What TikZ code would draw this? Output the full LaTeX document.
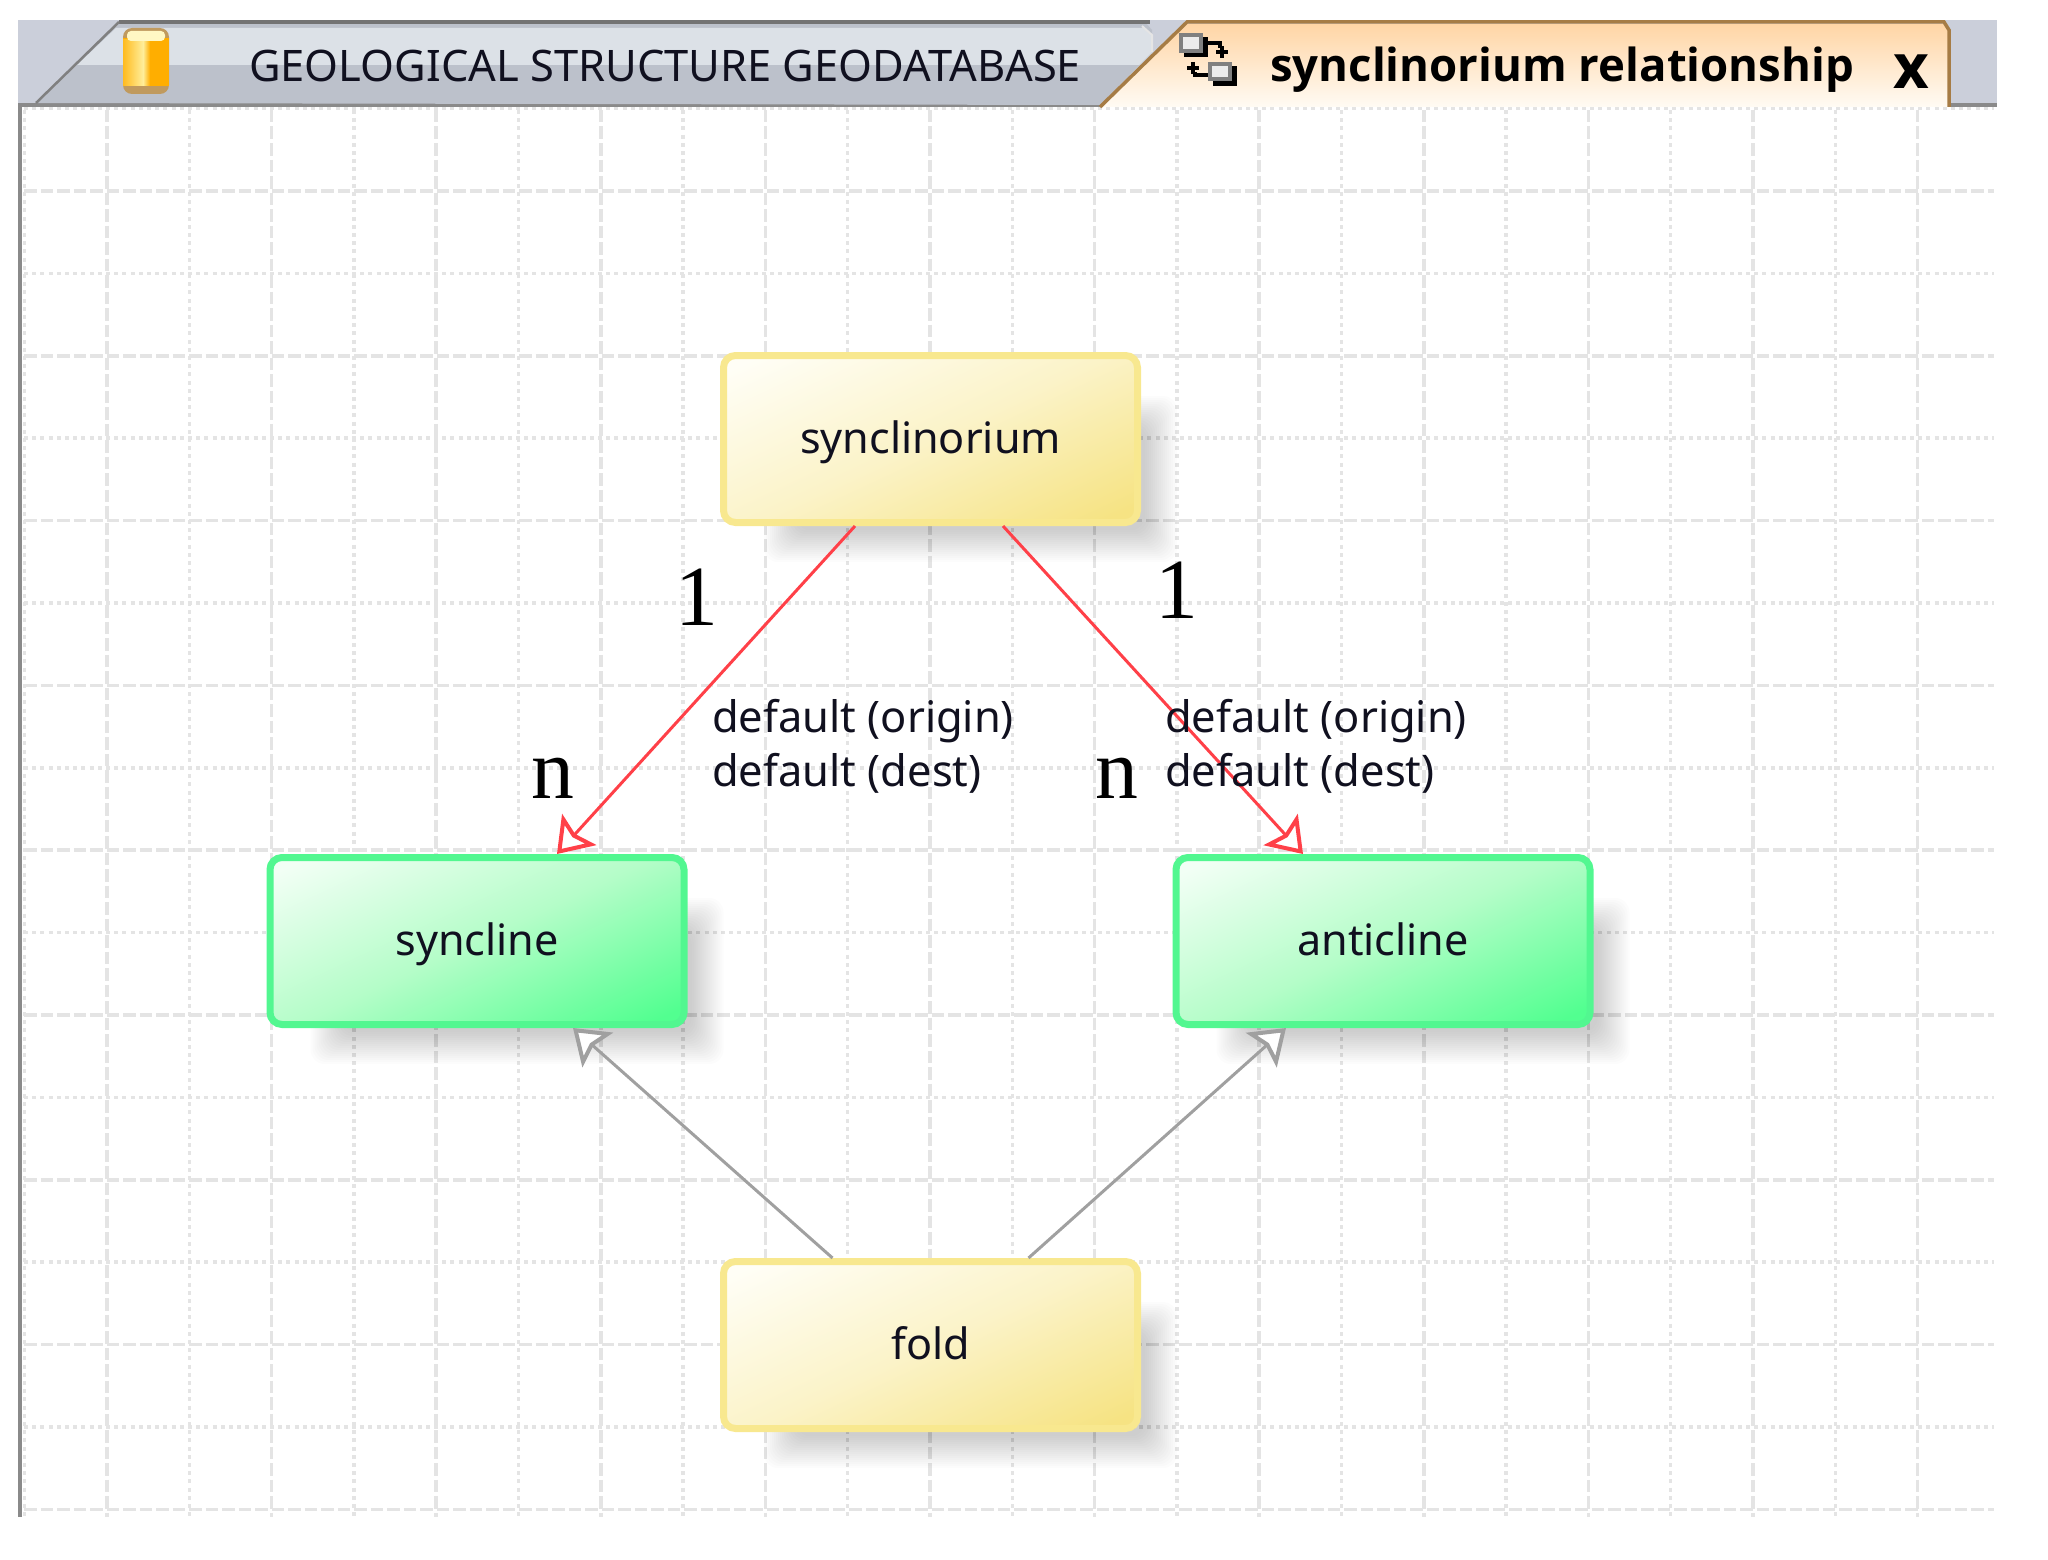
\documentclass[tikz,border=0pt]{standalone}
\usepackage{fontspec}
\setmainfont{Noto Sans}
\newfontfamily\cardfont{Liberation Serif}
\newfontfamily\tabbold{Open Sans}
\usepackage{tikz}
\usetikzlibrary{arrows.meta,backgrounds,calc}
\definecolor{gridgray}{HTML}{E4E4E4}
\definecolor{tabback}{HTML}{CBCFDA}
\definecolor{tabedge}{HTML}{8A8A8A}
\definecolor{tablow}{HTML}{BCC1CB}
\definecolor{tabhigh}{HTML}{DCE1E7}
\definecolor{brownedge}{HTML}{A67C45}
\definecolor{tabtop}{HTML}{FFD5A5}
\definecolor{tabfoot}{HTML}{FFFBF4}
\definecolor{yellowedge}{HTML}{F8E88F}
\definecolor{yellowfill}{HTML}{F6E383}
\definecolor{yellowmid}{HTML}{FBF3C8}
\definecolor{yellowpale}{HTML}{FFFEF6}
\definecolor{greenedge}{HTML}{52F790}
\definecolor{greenfill}{HTML}{52FF90}
\definecolor{greenmid}{HTML}{B4FDC8}
\definecolor{greenpale}{HTML}{F2FFF5}
\definecolor{inktext}{HTML}{10101F}
\definecolor{redline}{HTML}{FF4048}
\definecolor{grayline}{HTML}{A0A0A0}
\definecolor{iconbrown}{HTML}{C09A5E}
\definecolor{icongold}{HTML}{FFAE00}
\definecolor{iconpale}{HTML}{FFEE9A}
\definecolor{iconcap}{HTML}{FFF8C4}
\pgfdeclareverticalshading{yellowsweep}{100bp}{color(0bp)=(yellowfill); color(20bp)=(yellowfill); color(50bp)=(yellowmid); color(80bp)=(yellowpale); color(100bp)=(yellowpale)}
\pgfdeclareverticalshading{greensweep}{100bp}{color(0bp)=(greenfill); color(20bp)=(greenfill); color(50bp)=(greenmid); color(80bp)=(greenpale); color(100bp)=(greenpale)}
\tikzset{
  entitybox/.style={rounded corners=12bp, line width=7bp, minimum width=414bp, minimum height=167bp,
    text=inktext, text height=34bp, text depth=6bp, font=\fontsize{43.3}{52}\selectfont},
  yellowbox/.style={entitybox, draw=yellowedge, shading=yellowsweep, shading angle=25},
  greenbox/.style={entitybox, draw=greenedge, shading=greensweep, shading angle=25},
  shadowlayer/.style={fill=black, opacity=.011, rounded corners=14bp},
  rolelabel/.style={text=inktext, align=left, anchor=north west, inner sep=0pt,
    font=\fontsize{43.6}{54}\selectfont},
  cardlabel/.style={inner sep=0pt, text=black, font=\cardfont\fontsize{86}{86}\selectfont},
  relline/.style={redline, line width=3bp, -{Stealth[open, length=33bp, width=46bp, inset=6bp, fill=white, line width=4bp]}},
  inhline/.style={grayline, line width=3bp, -{Stealth[open, length=33bp, width=46bp, inset=6bp, fill=white, line width=4bp]}},
  gridline/.style={gridgray, line width=3.5bp, dash pattern=on 12.5bp off 4bp},
  griddots/.style={gridgray, line width=3.5bp, dash pattern=on 4bp off 4.2bp},
  iconbox/.style={fill=gray},
  iconpane/.style={fill=white!85!gray},
  iconwire/.style={black, line width=4bp},
}
\begin{document}
\begin{tikzpicture}[x=1bp, y=-1bp]
  \useasboundingbox (0,0) rectangle (2048,1560);
  % canvas grid
  \begin{pgfonlayer}{background}
    \foreach \k in {0,2,...,22}
      \draw[gridline] ({107+82.3*\k},110) -- ({107+82.3*\k},1517);
    \foreach \k in {-1,1,...,21}
      \draw[griddots] ({107+82.3*\k},110) -- ({107+82.3*\k},1517);
    \foreach \k in {0,2,...,16}
      \draw[gridline] (24,{191+82.4*\k}) -- (1994,{191+82.4*\k});
    \foreach \k in {-1,1,...,15}
      \draw[griddots] (24,{191+82.4*\k}) -- (1994,{191+82.4*\k});
  \end{pgfonlayer}
  \fill[tabedge] (18,104) rectangle (22,1517);
  % tab bar
  \fill[tabback] (18,20) rectangle (1997,104);
  \fill[tabedge] (18,103) rectangle (1997,107);
  \fill[tablow] (36,103) -- (119,22) -- (1145,22) -- (1152,30) -- (1152,52) -- (1100,105) -- cycle;
  \fill[tabhigh] (77,65) -- (116,28) -- (1145,28) -- (1152,35) -- (1152,52) -- (1139,65) -- cycle;
  \fill[black!55] (119,20) rectangle (1150,24);
  \draw[gray, line width=2.5bp] (36,103) -- (119,22);
  \draw[white!90!black, line width=2bp] (1142,26) -- (1152,35) -- (1152,52);
  % database icon
  \fill[iconbrown, rounded corners=9bp] (123,28) rectangle (169,94);
  \fill[icongold] (123,38) rectangle (169,86);
  \shade[left color=icongold!80!iconpale, right color=iconpale] (123,40) rectangle (143,86);
  \shade[left color=iconpale, right color=icongold] (143,40) rectangle (150,86);
  \fill[iconcap, rounded corners=4bp] (127,31) rectangle (165,41);
  % main tab title
  \node[anchor=west, inner sep=0pt, text=inktext, font=\fontsize{43.6}{44}\selectfont] (maintab) at (249,66) {GEOLOGICAL STRUCTURE GEODATABASE};
  % active tab
  \shade[top color=tabtop, bottom color=tabfoot] (1100,107) -- (1183,24) -- (1944,24) -- (1949,30) -- (1949,107) -- cycle;
  \draw[brownedge, line width=3.5bp] (1100,107) -- (1187,22) -- (1944,22) -- (1949,30) -- (1949,107);
  \fill[black] (1184,37) rectangle (1208,57);
  \fill[iconbox] (1179,33) rectangle (1203,53);
  \fill[iconpane] (1183,37) rectangle (1199,49);
  \fill[black] (1213,66) rectangle (1237,86);
  \fill[iconbox] (1208,62) rectangle (1232,81);
  \fill[iconpane] (1212,66) rectangle (1228,77);
  \draw[iconwire] (1203,43) -- (1220,43) -- (1220,48);
  \draw[iconwire] (1222,46) -- (1222,58) (1216,52) -- (1228,52);
  \draw[iconwire] (1208,75) -- (1195,75) -- (1195,72);
  \draw[iconwire] (1193,62) -- (1193,74) (1187,68) -- (1199,68);
  \node[anchor=west, inner sep=0pt, text=black, font=\tabbold\bfseries\fontsize{45.7}{46}\selectfont] (activetab) at (1270,70) {synclinorium relationship};
  \node[inner sep=0pt, text=black, font=\tabbold\bfseries\fontsize{62}{62}\selectfont] (closetab) at (1911,72) {x};
  % entities
  \node[yellowbox] (synclinorium) at (930.5,439) {synclinorium};
  \node[greenbox] (syncline) at (477,941) {syncline};
  \node[greenbox] (anticline) at (1383,941) {anticline};
  \node[yellowbox] (fold) at (930.5,1345) {fold};
  \begin{pgfonlayer}{background}
    \foreach \nm in {synclinorium,syncline,anticline,fold}
      \foreach \s in {0,2,...,32}
        \fill[shadowlayer] ($(\nm.north west)+(44+\s,44+\s)$) rectangle ($(\nm.south east)+(36-\s,36-\s)$);
  \end{pgfonlayer}
  % relations
  \draw[relline] ($(synclinorium.south)+(-75.5,0)$) -- ($(syncline.north)+(80,0)$);
  \draw[relline] ($(synclinorium.south)+(72.5,0)$) -- ($(anticline.north)+(-80,0)$);
  \draw[inhline] ($(fold.north)+(-98,0)$) -- ($(syncline.south)+(96,0)$);
  \draw[inhline] ($(fold.north)+(98,0)$) -- ($(anticline.south)+(-97,0)$);
  % labels
  \node[cardlabel] (oneleft) at (697,597) {1};
  \node[cardlabel] (oneright) at (1177,590) {1};
  \node[cardlabel] (manyleft) at (552.5,778) {n};
  \node[cardlabel] (manyright) at (1117,778) {n};
  \node[rolelabel] (roleleft) at (712,699) {default (origin)\\default (dest)};
  \node[rolelabel] (roleright) at (1165,699) {default (origin)\\default (dest)};
\end{tikzpicture}
\end{document}
